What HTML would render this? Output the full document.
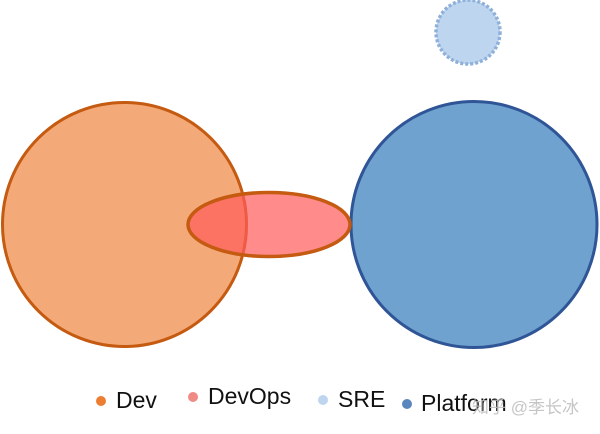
<!DOCTYPE html>
<html><head><meta charset="utf-8"><style>
html,body{margin:0;padding:0;background:#fff;width:600px;height:434px;overflow:hidden}
svg{display:block}
text{font-family:"Liberation Sans","Noto Sans CJK SC",sans-serif}
</style></head><body>
<svg width="600" height="434" viewBox="0 0 600 434">
<circle cx="124.5" cy="224.5" r="122" fill="#F4AA78" stroke="#C55A11" stroke-width="3"/>
<circle cx="474" cy="224.5" r="123" fill="#6FA2CF" stroke="#2F5597" stroke-width="3"/>
<circle cx="468" cy="32" r="32" fill="#BDD5EE" stroke="#8FB0DA" stroke-width="3.5" stroke-dasharray="3 2"/>
<ellipse cx="269" cy="224.5" rx="81" ry="32" fill="#FF5A5A" fill-opacity="0.7" stroke="#C55A11" stroke-width="3.5"/>
<circle cx="101" cy="401" r="5" fill="#ED7D31"/>
<text x="116" y="408" font-size="23" fill="#111">Dev</text>
<circle cx="193" cy="397" r="5" fill="#F08A84"/>
<text x="208" y="404" font-size="23" fill="#111">DevOps</text>
<circle cx="323" cy="400" r="5" fill="#BDD5EE"/>
<text x="338" y="407" font-size="23" fill="#111">SRE</text>
<circle cx="407" cy="404" r="5" fill="#5B86BD"/>
<text x="421" y="411" font-size="23" fill="#111">Platform</text>
<text x="472" y="413" font-size="17" fill="#bbb" fill-opacity="0.85">知乎 @季长冰</text>
</svg>
</body></html>
